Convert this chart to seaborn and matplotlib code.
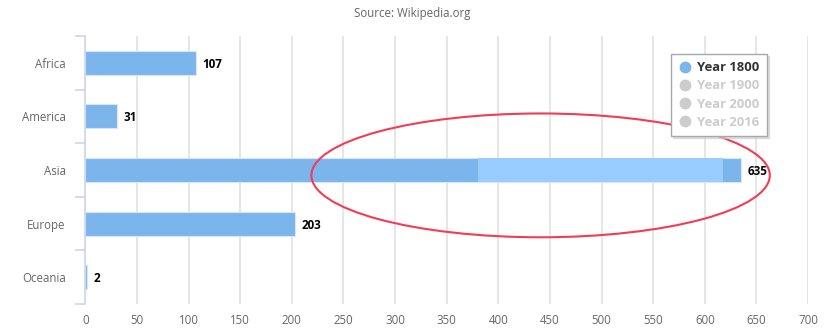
import matplotlib
matplotlib.use("Agg")
import matplotlib.pyplot as plt
from matplotlib.patches import Ellipse
from matplotlib.lines import Line2D
import seaborn as sns
import pandas as pd

# ---- data ----
categories = ["Africa", "America", "Asia", "Europe", "Oceania"]
values_1800 = [107, 31, 635, 203, 2]
legend_labels = ["Year 1800", "Year 1900", "Year 2000", "Year 2016"]
highlight_category = "Asia"
highlight_range = [380, 618]
x_ticks = [0, 50, 100, 150, 200, 250, 300, 350, 400, 450, 500, 550, 600, 650, 700]
title_text = "Source: Wikipedia.org"

# ellipse annotation (data coords: x value, category index)
ellipse_center = (441, 2.1)
ellipse_size = (444, 2.31)

sns.set_theme(style="white")
plt.rcParams["font.family"] = ["Open Sans", "DejaVu Sans"]

df = pd.DataFrame({"continent": categories, "value": values_1800})

fig = plt.figure(figsize=(8.25, 3.35), dpi=100)
ax = fig.add_axes([0.1034, 0.0925, 0.876, 0.8])

BAR = "#7cb5ec"
sns.barplot(data=df, y="continent", x="value", orient="h", color=BAR,
            width=0.45, edgecolor="#d6e6f8", linewidth=0.8, saturation=1,
            ax=ax, zorder=3)

# highlighted segment on Asia
hi = categories.index(highlight_category)
ax.barh(hi, highlight_range[1] - highlight_range[0], left=highlight_range[0],
        height=0.45 - 0.02, color="#99ccff", linewidth=0, zorder=4)

ax.set_xlim(0, 700)
ax.set_ylim(4.5, -0.5)
ax.set_xticks(x_ticks)
ax.set_xticklabels([str(t) for t in x_ticks])
ax.set_xlabel("")
ax.set_ylabel("")

ax.grid(axis="x", color="#e6e6e6", linewidth=1.4, zorder=0)
ax.grid(axis="y", visible=False)
for s in ["top", "right", "bottom"]:
    ax.spines[s].set_visible(False)
ax.spines["left"].set_color("#ccd6eb")
ax.spines["left"].set_linewidth(1.2)
ax.spines["left"].set_zorder(5)

# category boundary ticks on left axis
ax.set_yticks([i - 0.5 for i in range(len(categories) + 1)], minor=True)
ax.tick_params(axis="y", which="minor", length=7, color="#ccd6eb", width=1.2,
               direction="out", left=True)
ax.tick_params(axis="y", which="major", length=0, pad=14, labelsize=8.3,
               labelcolor="#666666")
ax.tick_params(axis="x", which="major", length=0, pad=7.5, labelsize=8.3,
               labelcolor="#666666")

# value labels
for i, v in enumerate(values_1800):
    ax.annotate(str(v), xy=(v, i), xytext=(4.5, 0), textcoords="offset points",
                ha="left", va="center_baseline", fontsize=8.4, fontweight="bold",
                color="black", zorder=6)

# red ellipse annotation
ell = Ellipse(ellipse_center, ellipse_size[0], ellipse_size[1], fill=False,
              edgecolor="#f23c55", linewidth=1.5, zorder=7)
ax.add_patch(ell)

# legend
handles = [Line2D([0], [0], marker="o", linestyle="", markersize=8.5,
                  markerfacecolor=BAR if i == 0 else "#cccccc",
                  markeredgecolor="none") for i in range(len(legend_labels))]
leg = ax.legend(handles, legend_labels, loc="upper right",
                bbox_to_anchor=(0.943, 0.933), borderaxespad=0,
                frameon=True, fancybox=False,
                shadow={"color": "#cccccc", "alpha": 0.6, "ox": 1.5, "oy": -1.5},
                prop={"weight": "bold", "size": 9.4}, handletextpad=0.45,
                handlelength=1.0, labelspacing=0.4, borderpad=0.55)
leg.get_frame().set_edgecolor("#a8a8a8")
leg.get_frame().set_linewidth(1.0)
for i, t in enumerate(leg.get_texts()):
    t.set_color("#333333" if i == 0 else "#cccccc")
leg.set_zorder(8)

fig.text(0.5, 1 - 13 / 335, title_text, ha="center", va="center",
         fontsize=8.3, color="#666666")

fig.savefig("out.png", dpi=100)
